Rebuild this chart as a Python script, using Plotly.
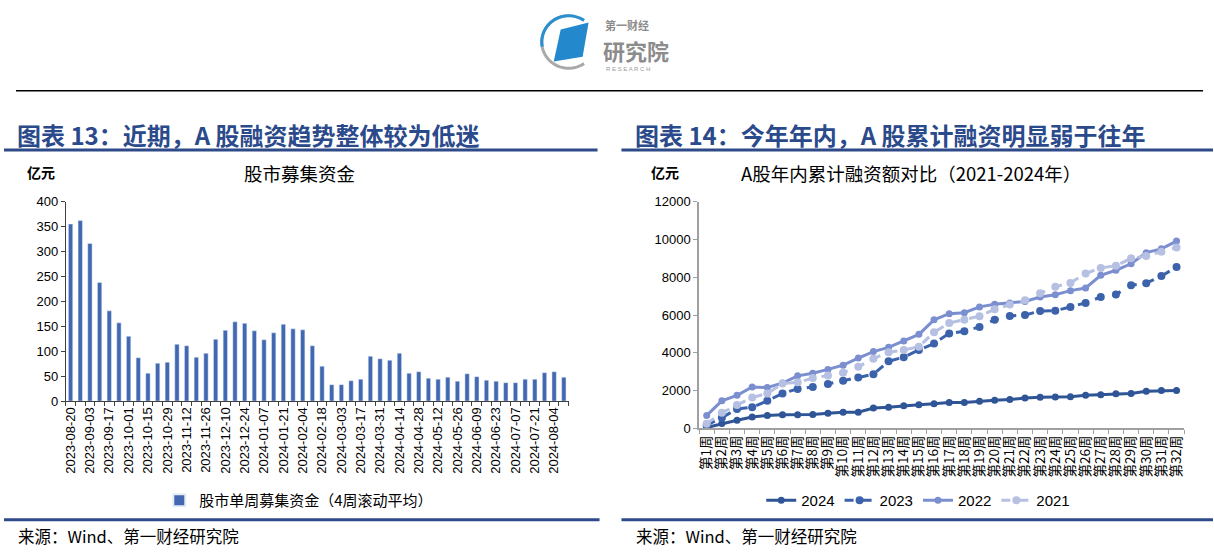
import math
import plotly.graph_objects as go

# ---------------- data ----------------
week_dates = [
    "2023-08-20", "2023-08-27", "2023-09-03", "2023-09-10", "2023-09-17", "2023-09-24",
    "2023-10-01", "2023-10-08", "2023-10-15", "2023-10-22", "2023-10-29", "2023-11-05",
    "2023-11-12", "2023-11-19", "2023-11-26", "2023-12-03", "2023-12-10", "2023-12-17",
    "2023-12-24", "2023-12-31", "2024-01-07", "2024-01-14", "2024-01-21", "2024-01-28",
    "2024-02-04", "2024-02-11", "2024-02-18", "2024-02-25", "2024-03-03", "2024-03-10",
    "2024-03-17", "2024-03-24", "2024-03-31", "2024-04-07", "2024-04-14", "2024-04-21",
    "2024-04-28", "2024-05-05", "2024-05-12", "2024-05-19", "2024-05-26", "2024-06-02",
    "2024-06-09", "2024-06-16", "2024-06-23", "2024-06-30", "2024-07-07", "2024-07-14",
    "2024-07-21", "2024-07-28", "2024-08-04", "2024-08-11",
]
weekly_funds = [
    355, 362, 316, 238, 181, 157, 130, 87, 56, 76, 78, 114, 111, 88, 96, 124,
    142, 159, 156, 141, 123, 137, 154, 145, 143, 111, 70, 33, 33, 41, 44, 90,
    85, 82, 96, 56, 59, 46, 44, 48, 40, 55, 49, 42, 40, 37, 37, 44, 44, 57, 59, 48,
]
date_ticktext = [d if i % 2 == 0 else "" for i, d in enumerate(week_dates)]

week_labels = ["第%d周" % i for i in range(1, 33)]
cum_2024 = [50, 257, 430, 600, 686, 720, 720, 737, 806, 857, 857, 1080, 1115, 1200, 1250, 1300,
            1370, 1370, 1440, 1490, 1525, 1610, 1650, 1665, 1680, 1750, 1785, 1835, 1850, 1970, 2005, 2005]
cum_2023 = [170, 566, 1030, 1115, 1458, 1850, 2090, 2195, 2350, 2520, 2690, 2865, 3550, 3770, 4150, 4490,
            5025, 5145, 5370, 5745, 5950, 6000, 6210, 6225, 6430, 6640, 6950, 7085, 7580, 7685, 8060, 8540]
cum_2022 = [686, 1458, 1750, 2195, 2160, 2400, 2780, 2916, 3120, 3345, 3720, 4065, 4290, 4630, 4975, 5745,
            6070, 6120, 6430, 6570, 6640, 6720, 6950, 7070, 7290, 7430, 8100, 8370, 8710, 9300, 9500, 9910]
cum_2021 = [250, 823, 1235, 1630, 1850, 2370, 2435, 2660, 2800, 2950, 3260, 3690, 4030, 4150, 4320, 5090,
            5575, 5745, 5935, 6310, 6550, 6775, 7150, 7500, 7700, 8200, 8490, 8610, 9000, 9125, 9350, 9570]

# ---------------- layout helpers ----------------
W, H = 1214, 559
def X(px):
    return px / W
def Y(py):
    return 1 - py / H

CJK = "Noto Sans CJK SC"
NUM = "Liberation Sans, Arial"
TITLE_BLUE = "#2b4a8b"
BAR_BLUE = "#4168b0"

fig = go.Figure()

fig.add_trace(go.Bar(
    x=week_dates, y=weekly_funds, name="股市单周募集资金（4周滚动平均）",
    marker=dict(color=BAR_BLUE), xaxis="x", yaxis="y", legend="legend",
))

line_specs = [
    ("2024", cum_2024, "#2f5597", "solid", 7),
    ("2023", cum_2023, "#3b62ab", "dash", 8),
    ("2022", cum_2022, "#7b8fd0", "solid", 7),
    ("2021", cum_2021, "#b6c0e2", "dash", 8),
]
for name, vals, color, dash, msize in line_specs:
    fig.add_trace(go.Scatter(
        x=week_labels, y=vals, name=name, mode="lines+markers",
        line=dict(color=color, width=3, dash=dash),
        marker=dict(color=color, size=msize),
        xaxis="x2", yaxis="y2", legend="legend2",
    ))

annotations = []
def text(x, y, s, size, color="#000", family=CJK, weight="normal", xanchor="left"):
    annotations.append(dict(
        x=X(x), y=Y(y), xref="paper", yref="paper", text=s, showarrow=False,
        xanchor=xanchor, yanchor="middle", borderpad=0,
        font=dict(size=size, color=color, family=family, weight=weight),
    ))

# section titles
text(12, 131, "图表 13：近期，A 股融资趋势整体较为低迷", 24, TITLE_BLUE, weight="bold")
text(633, 131, "图表 14：今年年内，A 股累计融资明显弱于往年", 24, TITLE_BLUE, weight="bold")
# units and chart titles
text(22, 170, "亿元", 14, "#000", weight="bold")
text(297, 171, "股市募集资金", 18.5, "#000", xanchor="center")
text(649, 170, "亿元", 14, "#000", weight="bold")
text(911, 171, "A股年内累计融资额对比（2021-2024年）", 18.5, "#000", xanchor="center")
# sources
text(13, 544, "来源：Wind、第一财经研究院", 16.5, "#000")
text(634, 544, "来源：Wind、第一财经研究院", 16.5, "#000")
# logo text
text(602, 19, "第一财经", 11, "#8c8c8c", weight="bold")
text(600, 44, "研究院", 22, "#8c8c8c", weight="bold")
text(603, 64, "R E S E A R C H", 6, "#9a9a9a", family=NUM)

shapes = []
def hline(x0, x1, y, color, width):
    shapes.append(dict(type="line", xref="paper", yref="paper",
                       x0=X(x0), x1=X(x1), y0=Y(y), y1=Y(y),
                       line=dict(color=color, width=width)))

hline(12, 1204, 86, "#000000", 1.5)
hline(0, 596, 147, "#2e4a88", 3)
hline(620, 1214, 147, "#2e4a88", 3)
hline(0, 598, 527, "#2e4a88", 3)
hline(620, 1214, 527, "#2e4a88", 3)

# logo ring
cx, cy, r = 567, 36, 27
def arc(a0, a1, n=40):
    pts = []
    for k in range(n + 1):
        a = math.radians(a0 + (a1 - a0) * k / n)
        pts.append((cx + r * math.cos(a), cy - r * math.sin(a)))
    return "M " + " L ".join("%.5f,%.5f" % (X(px), Y(py)) for px, py in pts)

shapes.append(dict(type="path", xref="paper", yref="paper", path=arc(-55, -270),
                   line=dict(color="#a9a9a9", width=3)))
shapes.append(dict(type="path", xref="paper", yref="paper", path=arc(55, 190),
                   line=dict(color="#2a8fd0", width=3)))
para = [(559, 23), (587, 16), (581, 51), (552, 56)]
shapes.append(dict(type="path", xref="paper", yref="paper",
                   path="M " + " L ".join("%.5f,%.5f" % (X(a), Y(b)) for a, b in para) + " Z",
                   fillcolor="#2389cc", line=dict(width=0)))

axis_font = dict(family=NUM, size=13, color="#000")

fig.update_layout(
    width=W, height=H, margin=dict(l=0, r=0, t=0, b=0),
    paper_bgcolor="white", plot_bgcolor="white",
    bargap=0.55,
    showlegend=True,
    xaxis=dict(
        domain=[X(62), X(567)], anchor="y", type="category",
        categoryorder="array", categoryarray=week_dates,
        tickmode="array", tickvals=week_dates, ticktext=date_ticktext, tickangle=-90,
        tickson="boundaries", ticks="outside", ticklen=4, tickcolor="#404040",
        showline=True, linecolor="#404040", linewidth=1, showgrid=False,
        tickfont=dict(family=NUM, size=13, color="#000"), range=[-0.5, 51.5],
    ),
    yaxis=dict(
        domain=[Y(405), Y(200)], anchor="x", range=[0, 400], dtick=50,
        ticks="outside", ticklen=4, tickcolor="#404040",
        showline=True, linecolor="#404040", linewidth=1, showgrid=False, zeroline=False,
        tickfont=axis_font,
    ),
    xaxis2=dict(
        domain=[X(698), X(1185)], anchor="y2", type="category",
        categoryorder="array", categoryarray=week_labels,
        tickmode="array", tickvals=week_labels, ticktext=week_labels,
        tickangle=-90, tickson="boundaries", ticks="outside", ticklen=4, tickcolor="#a0a0a0",
        showline=True, linecolor="#a0a0a0", linewidth=1.5, showgrid=False,
        tickfont=dict(family=CJK, size=13.5, color="#000"), range=[-0.5, 31.5],
    ),
    yaxis2=dict(
        domain=[Y(433), Y(200)], anchor="x2", range=[0, 12000], dtick=2000,
        tickformat="d",
        ticks="outside", ticklen=4, tickcolor="#a0a0a0",
        showline=True, linecolor="#a0a0a0", linewidth=1.5, showgrid=False, zeroline=False,
        tickfont=axis_font,
    ),
    legend=dict(
        x=X(296), y=Y(507), xanchor="center", yanchor="middle", orientation="h",
        font=dict(family=CJK, size=15, color="#000"), bgcolor="rgba(0,0,0,0)",
        itemsizing="constant",
    ),
    legend2=dict(
        x=X(918), y=Y(507), xanchor="center", yanchor="middle", orientation="h",
        font=dict(family=NUM, size=15, color="#000"), bgcolor="rgba(0,0,0,0)",
        itemwidth=30,
    ),
    annotations=annotations,
    shapes=shapes,
)

fig.write_html("out.html")
